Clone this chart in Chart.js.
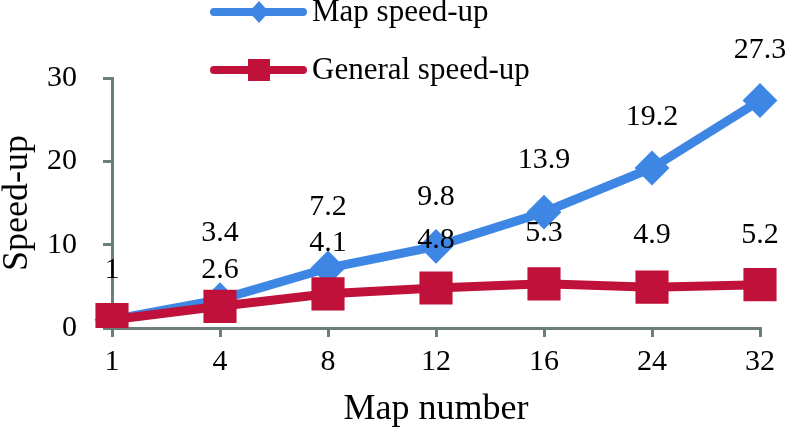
<!DOCTYPE html>
<html>
<head>
<meta charset="utf-8">
<script src="https://cdn.jsdelivr.net/npm/chart.js@4.4.0/dist/chart.umd.min.js"></script>
<style>
  html, body { margin: 0; padding: 0; background: #fff; overflow: hidden; }
</style>
</head>
<body>
<canvas id="Speedup" width="785" height="429"></canvas>
<script>
    var mapNumbers = ['1', '4', '8', '12', '16', '24', '32'];
    var mapSpeedup = [1, 3.4, 7.2, 9.8, 13.9, 19.2, 27.3];
    var generalSpeedup = [1, 2.6, 4.1, 4.8, 5.3, 4.9, 5.2];
    var seriesNames = ['Map speed-up', 'General speed-up'];
    var yTicks = [0, 10, 20, 30];

    var blue = '#3d86e4';
    var red = '#c0113a';
    var axisColor = '#6b7e7c';
    var serif = "'Liberation Serif', 'Times New Roman', serif";

    // how far above each point its label sits (px), hand-placed like the original
    var labelLift = [
        [50, 67, 61, 49, 52, 51, 50],
        [50, 36, 51, 48, 51, 52, 50]
    ];

    // value labels over the points
    var valueLabels = {
        id: 'valueLabels',
        afterDatasetsDraw: function (chart) {
            var ctx = chart.ctx;
            ctx.save();
            ctx.font = '30px ' + serif;
            ctx.fillStyle = '#000';
            ctx.textAlign = 'center';
            ctx.textBaseline = 'middle';
            chart.data.datasets.forEach(function (ds, d) {
                var meta = chart.getDatasetMeta(d);
                meta.data.forEach(function (pt, i) {
                    // skip the second "1" that would sit on top of the first
                    if (d > 0 && chart.data.datasets[0].data[i] === ds.data[i]) return;
                    ctx.fillText(String(ds.data[i]), pt.x, pt.y - labelLift[d][i]);
                });
            });
            ctx.restore();
        }
    };

    // legend stacked at the top, line + marker + text
    var stackedLegend = {
        id: 'stackedLegend',
        afterDraw: function (chart) {
            var ctx = chart.ctx;
            var rows = [
                { y: 12, color: blue, style: 'diamond' },
                { y: 70, color: red, style: 'square' }
            ];
            ctx.save();
            rows.forEach(function (r, i) {
                ctx.strokeStyle = r.color;
                ctx.fillStyle = r.color;
                ctx.lineWidth = 8;
                ctx.lineCap = 'round';
                ctx.beginPath();
                ctx.moveTo(214, r.y);
                ctx.lineTo(303, r.y);
                ctx.stroke();
                ctx.beginPath();
                if (r.style === 'diamond') {
                    ctx.moveTo(259, r.y - 11);
                    ctx.lineTo(269, r.y);
                    ctx.lineTo(259, r.y + 11);
                    ctx.lineTo(249, r.y);
                } else {
                    ctx.rect(248, r.y - 11, 22, 22);
                }
                ctx.closePath();
                ctx.fill();
                ctx.fillStyle = '#000';
                ctx.font = '31px ' + serif;
                ctx.textAlign = 'left';
                ctx.textBaseline = 'middle';
                ctx.fillText(seriesNames[i], 312, r.y + 1);
            });
            ctx.restore();
        }
    };

    var chartdata = {
        labels: mapNumbers,
        datasets: [
            {
                label: seriesNames[0],
                data: mapSpeedup,
                order: 1,
                borderColor: blue,
                backgroundColor: blue,
                borderWidth: 9,
                pointStyle: 'rectRot',
                pointRadius: 16,
                pointBorderWidth: 2,
                pointBackgroundColor: blue,
                pointBorderColor: blue,
                tension: 0
            },
            {
                label: seriesNames[1],
                data: generalSpeedup,
                order: 0,
                borderColor: red,
                backgroundColor: red,
                borderWidth: 9,
                pointStyle: 'rect',
                pointRadius: 22,
                pointBorderWidth: 2,
                pointBackgroundColor: red,
                pointBorderColor: red,
                tension: 0
            }
        ]
    };

    var graphTarget = document.getElementById('Speedup');

    var lineGraph = new Chart(graphTarget, {
        type: 'line',
        data: chartdata,
        plugins: [valueLabels, stackedLegend],
        options: {
            responsive: false,
            animation: false,
            devicePixelRatio: 1,
            layout: { padding: { top: 78, right: 25, bottom: 0, left: 0 } },
            plugins: {
                legend: { display: false },
                tooltip: { enabled: false }
            },
            scales: {
                x: {
                    offset: false,
                    grid: { drawOnChartArea: false, drawTicks: true, tickLength: 9, color: axisColor, lineWidth: 3 },
                    border: { color: axisColor, width: 3 },
                    ticks: { color: '#000', font: { family: serif, size: 30 }, padding: 7, maxRotation: 0 },
                    title: {
                        display: true,
                        text: 'Map number',
                        color: '#000',
                        font: { family: serif, size: 36, lineHeight: 1.1 },
                        padding: { top: 0, bottom: 0 }
                    },
                    afterFit: function (scale) { scale.height = 101; }
                },
                y: {
                    min: yTicks[0],
                    max: yTicks[yTicks.length - 1],
                    afterBuildTicks: function (scale) {
                        scale.ticks = yTicks.map(function (v) { return { value: v }; });
                    },
                    grid: { drawOnChartArea: false, drawTicks: true, tickLength: 9, color: axisColor, lineWidth: 3 },
                    border: { color: axisColor, width: 3 },
                    ticks: { color: '#000', font: { family: serif, size: 30 }, padding: 26 },
                    title: {
                        display: true,
                        text: 'Speed-up',
                        color: '#000',
                        font: { family: serif, size: 36, lineHeight: 1 },
                        padding: 0
                    },
                    afterFit: function (scale) { scale.width = 112; }
                }
            }
        }
    });
</script>
</body>
</html>
